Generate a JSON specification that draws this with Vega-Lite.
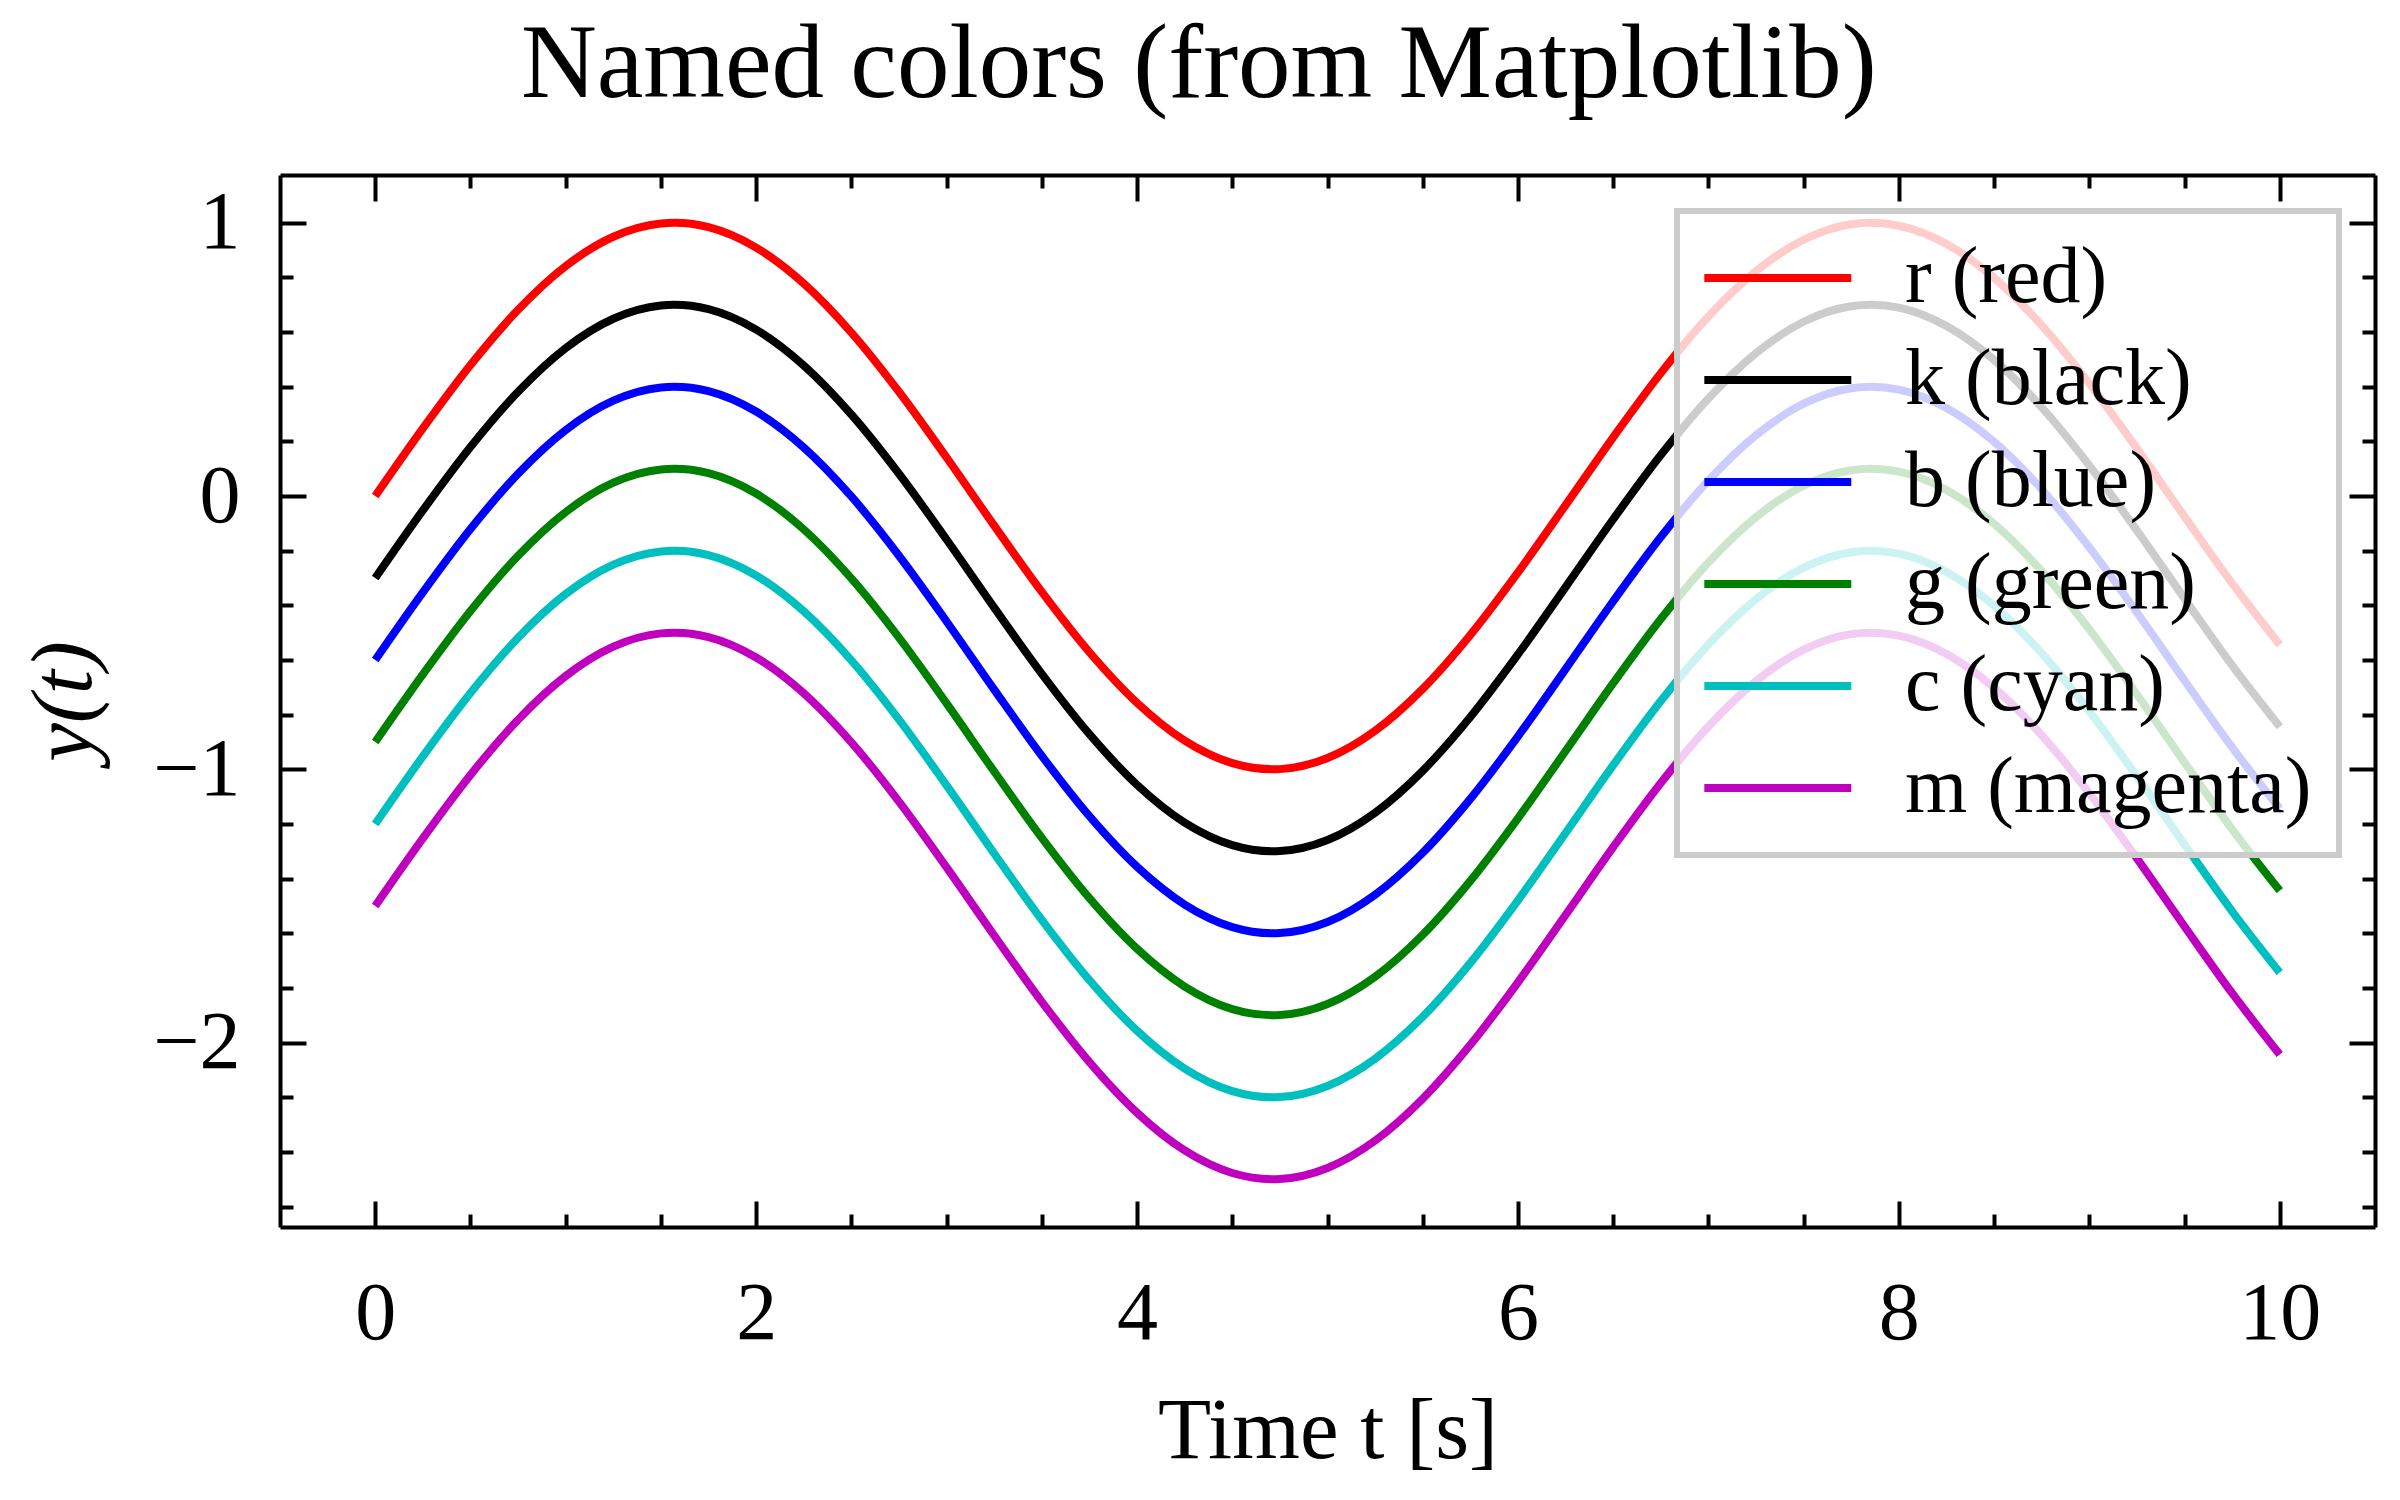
{
  "$schema": "https://vega.github.io/schema/vega-lite/v6.json",
  "autosize": {"type": "none"},
  "width": 2095,
  "height": 1052,
  "padding": {"left": 280, "top": 175, "right": 25, "bottom": 273},
  "background": "white",
  "title": {
    "text": "Named colors (from Matplotlib)",
    "font": "Liberation Serif",
    "fontSize": 105,
    "fontWeight": "normal",
    "color": "black",
    "anchor": "middle",
    "frame": "bounds",
    "baseline": "alphabetic",
    "offset": -29
  },
  "config": {
    "view": {"stroke": null},
    "axis": {
      "grid": false,
      "domainColor": "black",
      "domainWidth": 4,
      "tickColor": "black",
      "tickWidth": 4,
      "labelFont": "Liberation Serif",
      "labelFontSize": 82,
      "labelColor": "black",
      "labelFlush": false,
      "labelOverlap": false,
      "titleFont": "Liberation Serif",
      "titleFontSize": 87,
      "titleFontWeight": "normal",
      "titleColor": "black",
      "zindex": 1
    },
    "legend": {
      "orient": "top-right",
      "offset": 36,
      "padding": 27,
      "rowPadding": 22,
      "symbolType": "M-2.7,0H7.3",
      "symbolSize": 864,
      "symbolStrokeWidth": 8,
      "labelOffset": 121,
      "labelFont": "Liberation Serif",
      "labelFontSize": 80,
      "labelColor": "black",
      "labelLimit": 0,
      "strokeColor": "#cccccc",
      "fillColor": "rgba(255,255,255,0.8)",
      "cornerRadius": 0
    }
  },
  "data": {
    "values": [
      {"t": 0, "series": "r (red)", "y": 0},
      {"t": 0.25, "series": "r (red)", "y": 0.2474},
      {"t": 0.5, "series": "r (red)", "y": 0.4794},
      {"t": 0.75, "series": "r (red)", "y": 0.6816},
      {"t": 1, "series": "r (red)", "y": 0.8415},
      {"t": 1.25, "series": "r (red)", "y": 0.949},
      {"t": 1.5, "series": "r (red)", "y": 0.9975},
      {"t": 1.5708, "series": "r (red)", "y": 1},
      {"t": 1.75, "series": "r (red)", "y": 0.984},
      {"t": 2, "series": "r (red)", "y": 0.9093},
      {"t": 2.25, "series": "r (red)", "y": 0.7781},
      {"t": 2.5, "series": "r (red)", "y": 0.5985},
      {"t": 2.75, "series": "r (red)", "y": 0.3817},
      {"t": 3, "series": "r (red)", "y": 0.1411},
      {"t": 3.25, "series": "r (red)", "y": -0.1082},
      {"t": 3.5, "series": "r (red)", "y": -0.3508},
      {"t": 3.75, "series": "r (red)", "y": -0.5716},
      {"t": 4, "series": "r (red)", "y": -0.7568},
      {"t": 4.25, "series": "r (red)", "y": -0.895},
      {"t": 4.5, "series": "r (red)", "y": -0.9775},
      {"t": 4.7124, "series": "r (red)", "y": -1},
      {"t": 4.75, "series": "r (red)", "y": -0.9993},
      {"t": 5, "series": "r (red)", "y": -0.9589},
      {"t": 5.25, "series": "r (red)", "y": -0.8589},
      {"t": 5.5, "series": "r (red)", "y": -0.7055},
      {"t": 5.75, "series": "r (red)", "y": -0.5083},
      {"t": 6, "series": "r (red)", "y": -0.2794},
      {"t": 6.25, "series": "r (red)", "y": -0.0332},
      {"t": 6.5, "series": "r (red)", "y": 0.2151},
      {"t": 6.75, "series": "r (red)", "y": 0.45},
      {"t": 7, "series": "r (red)", "y": 0.657},
      {"t": 7.25, "series": "r (red)", "y": 0.8231},
      {"t": 7.5, "series": "r (red)", "y": 0.938},
      {"t": 7.75, "series": "r (red)", "y": 0.9946},
      {"t": 7.854, "series": "r (red)", "y": 1},
      {"t": 8, "series": "r (red)", "y": 0.9894},
      {"t": 8.25, "series": "r (red)", "y": 0.9224},
      {"t": 8.5, "series": "r (red)", "y": 0.7985},
      {"t": 8.75, "series": "r (red)", "y": 0.6247},
      {"t": 9, "series": "r (red)", "y": 0.4121},
      {"t": 9.25, "series": "r (red)", "y": 0.1739},
      {"t": 9.5, "series": "r (red)", "y": -0.0752},
      {"t": 9.75, "series": "r (red)", "y": -0.3195},
      {"t": 10, "series": "r (red)", "y": -0.544},

      {"t": 0, "series": "k (black)", "y": -0.3},
      {"t": 0.25, "series": "k (black)", "y": -0.0526},
      {"t": 0.5, "series": "k (black)", "y": 0.1794},
      {"t": 0.75, "series": "k (black)", "y": 0.3816},
      {"t": 1, "series": "k (black)", "y": 0.5415},
      {"t": 1.25, "series": "k (black)", "y": 0.649},
      {"t": 1.5, "series": "k (black)", "y": 0.6975},
      {"t": 1.5708, "series": "k (black)", "y": 0.7},
      {"t": 1.75, "series": "k (black)", "y": 0.684},
      {"t": 2, "series": "k (black)", "y": 0.6093},
      {"t": 2.25, "series": "k (black)", "y": 0.4781},
      {"t": 2.5, "series": "k (black)", "y": 0.2985},
      {"t": 2.75, "series": "k (black)", "y": 0.0817},
      {"t": 3, "series": "k (black)", "y": -0.1589},
      {"t": 3.25, "series": "k (black)", "y": -0.4082},
      {"t": 3.5, "series": "k (black)", "y": -0.6508},
      {"t": 3.75, "series": "k (black)", "y": -0.8716},
      {"t": 4, "series": "k (black)", "y": -1.0568},
      {"t": 4.25, "series": "k (black)", "y": -1.195},
      {"t": 4.5, "series": "k (black)", "y": -1.2775},
      {"t": 4.7124, "series": "k (black)", "y": -1.3},
      {"t": 4.75, "series": "k (black)", "y": -1.2993},
      {"t": 5, "series": "k (black)", "y": -1.2589},
      {"t": 5.25, "series": "k (black)", "y": -1.1589},
      {"t": 5.5, "series": "k (black)", "y": -1.0055},
      {"t": 5.75, "series": "k (black)", "y": -0.8083},
      {"t": 6, "series": "k (black)", "y": -0.5794},
      {"t": 6.25, "series": "k (black)", "y": -0.3332},
      {"t": 6.5, "series": "k (black)", "y": -0.0849},
      {"t": 6.75, "series": "k (black)", "y": 0.15},
      {"t": 7, "series": "k (black)", "y": 0.357},
      {"t": 7.25, "series": "k (black)", "y": 0.5231},
      {"t": 7.5, "series": "k (black)", "y": 0.638},
      {"t": 7.75, "series": "k (black)", "y": 0.6946},
      {"t": 7.854, "series": "k (black)", "y": 0.7},
      {"t": 8, "series": "k (black)", "y": 0.6894},
      {"t": 8.25, "series": "k (black)", "y": 0.6224},
      {"t": 8.5, "series": "k (black)", "y": 0.4985},
      {"t": 8.75, "series": "k (black)", "y": 0.3247},
      {"t": 9, "series": "k (black)", "y": 0.1121},
      {"t": 9.25, "series": "k (black)", "y": -0.1261},
      {"t": 9.5, "series": "k (black)", "y": -0.3752},
      {"t": 9.75, "series": "k (black)", "y": -0.6195},
      {"t": 10, "series": "k (black)", "y": -0.844},

      {"t": 0, "series": "b (blue)", "y": -0.6},
      {"t": 0.25, "series": "b (blue)", "y": -0.3526},
      {"t": 0.5, "series": "b (blue)", "y": -0.1206},
      {"t": 0.75, "series": "b (blue)", "y": 0.0816},
      {"t": 1, "series": "b (blue)", "y": 0.2415},
      {"t": 1.25, "series": "b (blue)", "y": 0.349},
      {"t": 1.5, "series": "b (blue)", "y": 0.3975},
      {"t": 1.5708, "series": "b (blue)", "y": 0.4},
      {"t": 1.75, "series": "b (blue)", "y": 0.384},
      {"t": 2, "series": "b (blue)", "y": 0.3093},
      {"t": 2.25, "series": "b (blue)", "y": 0.1781},
      {"t": 2.5, "series": "b (blue)", "y": -0.0015},
      {"t": 2.75, "series": "b (blue)", "y": -0.2183},
      {"t": 3, "series": "b (blue)", "y": -0.4589},
      {"t": 3.25, "series": "b (blue)", "y": -0.7082},
      {"t": 3.5, "series": "b (blue)", "y": -0.9508},
      {"t": 3.75, "series": "b (blue)", "y": -1.1716},
      {"t": 4, "series": "b (blue)", "y": -1.3568},
      {"t": 4.25, "series": "b (blue)", "y": -1.495},
      {"t": 4.5, "series": "b (blue)", "y": -1.5775},
      {"t": 4.7124, "series": "b (blue)", "y": -1.6},
      {"t": 4.75, "series": "b (blue)", "y": -1.5993},
      {"t": 5, "series": "b (blue)", "y": -1.5589},
      {"t": 5.25, "series": "b (blue)", "y": -1.4589},
      {"t": 5.5, "series": "b (blue)", "y": -1.3055},
      {"t": 5.75, "series": "b (blue)", "y": -1.1083},
      {"t": 6, "series": "b (blue)", "y": -0.8794},
      {"t": 6.25, "series": "b (blue)", "y": -0.6332},
      {"t": 6.5, "series": "b (blue)", "y": -0.3849},
      {"t": 6.75, "series": "b (blue)", "y": -0.15},
      {"t": 7, "series": "b (blue)", "y": 0.057},
      {"t": 7.25, "series": "b (blue)", "y": 0.2231},
      {"t": 7.5, "series": "b (blue)", "y": 0.338},
      {"t": 7.75, "series": "b (blue)", "y": 0.3946},
      {"t": 7.854, "series": "b (blue)", "y": 0.4},
      {"t": 8, "series": "b (blue)", "y": 0.3894},
      {"t": 8.25, "series": "b (blue)", "y": 0.3224},
      {"t": 8.5, "series": "b (blue)", "y": 0.1985},
      {"t": 8.75, "series": "b (blue)", "y": 0.0247},
      {"t": 9, "series": "b (blue)", "y": -0.1879},
      {"t": 9.25, "series": "b (blue)", "y": -0.4261},
      {"t": 9.5, "series": "b (blue)", "y": -0.6752},
      {"t": 9.75, "series": "b (blue)", "y": -0.9195},
      {"t": 10, "series": "b (blue)", "y": -1.144},

      {"t": 0, "series": "g (green)", "y": -0.9},
      {"t": 0.25, "series": "g (green)", "y": -0.6526},
      {"t": 0.5, "series": "g (green)", "y": -0.4206},
      {"t": 0.75, "series": "g (green)", "y": -0.2184},
      {"t": 1, "series": "g (green)", "y": -0.0585},
      {"t": 1.25, "series": "g (green)", "y": 0.049},
      {"t": 1.5, "series": "g (green)", "y": 0.0975},
      {"t": 1.5708, "series": "g (green)", "y": 0.1},
      {"t": 1.75, "series": "g (green)", "y": 0.084},
      {"t": 2, "series": "g (green)", "y": 0.0093},
      {"t": 2.25, "series": "g (green)", "y": -0.1219},
      {"t": 2.5, "series": "g (green)", "y": -0.3015},
      {"t": 2.75, "series": "g (green)", "y": -0.5183},
      {"t": 3, "series": "g (green)", "y": -0.7589},
      {"t": 3.25, "series": "g (green)", "y": -1.0082},
      {"t": 3.5, "series": "g (green)", "y": -1.2508},
      {"t": 3.75, "series": "g (green)", "y": -1.4716},
      {"t": 4, "series": "g (green)", "y": -1.6568},
      {"t": 4.25, "series": "g (green)", "y": -1.795},
      {"t": 4.5, "series": "g (green)", "y": -1.8775},
      {"t": 4.7124, "series": "g (green)", "y": -1.9},
      {"t": 4.75, "series": "g (green)", "y": -1.8993},
      {"t": 5, "series": "g (green)", "y": -1.8589},
      {"t": 5.25, "series": "g (green)", "y": -1.7589},
      {"t": 5.5, "series": "g (green)", "y": -1.6055},
      {"t": 5.75, "series": "g (green)", "y": -1.4083},
      {"t": 6, "series": "g (green)", "y": -1.1794},
      {"t": 6.25, "series": "g (green)", "y": -0.9332},
      {"t": 6.5, "series": "g (green)", "y": -0.6849},
      {"t": 6.75, "series": "g (green)", "y": -0.45},
      {"t": 7, "series": "g (green)", "y": -0.243},
      {"t": 7.25, "series": "g (green)", "y": -0.0769},
      {"t": 7.5, "series": "g (green)", "y": 0.038},
      {"t": 7.75, "series": "g (green)", "y": 0.0946},
      {"t": 7.854, "series": "g (green)", "y": 0.1},
      {"t": 8, "series": "g (green)", "y": 0.0894},
      {"t": 8.25, "series": "g (green)", "y": 0.0224},
      {"t": 8.5, "series": "g (green)", "y": -0.1015},
      {"t": 8.75, "series": "g (green)", "y": -0.2753},
      {"t": 9, "series": "g (green)", "y": -0.4879},
      {"t": 9.25, "series": "g (green)", "y": -0.7261},
      {"t": 9.5, "series": "g (green)", "y": -0.9752},
      {"t": 9.75, "series": "g (green)", "y": -1.2195},
      {"t": 10, "series": "g (green)", "y": -1.444},

      {"t": 0, "series": "c (cyan)", "y": -1.2},
      {"t": 0.25, "series": "c (cyan)", "y": -0.9526},
      {"t": 0.5, "series": "c (cyan)", "y": -0.7206},
      {"t": 0.75, "series": "c (cyan)", "y": -0.5184},
      {"t": 1, "series": "c (cyan)", "y": -0.3585},
      {"t": 1.25, "series": "c (cyan)", "y": -0.251},
      {"t": 1.5, "series": "c (cyan)", "y": -0.2025},
      {"t": 1.5708, "series": "c (cyan)", "y": -0.2},
      {"t": 1.75, "series": "c (cyan)", "y": -0.216},
      {"t": 2, "series": "c (cyan)", "y": -0.2907},
      {"t": 2.25, "series": "c (cyan)", "y": -0.4219},
      {"t": 2.5, "series": "c (cyan)", "y": -0.6015},
      {"t": 2.75, "series": "c (cyan)", "y": -0.8183},
      {"t": 3, "series": "c (cyan)", "y": -1.0589},
      {"t": 3.25, "series": "c (cyan)", "y": -1.3082},
      {"t": 3.5, "series": "c (cyan)", "y": -1.5508},
      {"t": 3.75, "series": "c (cyan)", "y": -1.7716},
      {"t": 4, "series": "c (cyan)", "y": -1.9568},
      {"t": 4.25, "series": "c (cyan)", "y": -2.095},
      {"t": 4.5, "series": "c (cyan)", "y": -2.1775},
      {"t": 4.7124, "series": "c (cyan)", "y": -2.2},
      {"t": 4.75, "series": "c (cyan)", "y": -2.1993},
      {"t": 5, "series": "c (cyan)", "y": -2.1589},
      {"t": 5.25, "series": "c (cyan)", "y": -2.0589},
      {"t": 5.5, "series": "c (cyan)", "y": -1.9055},
      {"t": 5.75, "series": "c (cyan)", "y": -1.7083},
      {"t": 6, "series": "c (cyan)", "y": -1.4794},
      {"t": 6.25, "series": "c (cyan)", "y": -1.2332},
      {"t": 6.5, "series": "c (cyan)", "y": -0.9849},
      {"t": 6.75, "series": "c (cyan)", "y": -0.75},
      {"t": 7, "series": "c (cyan)", "y": -0.543},
      {"t": 7.25, "series": "c (cyan)", "y": -0.3769},
      {"t": 7.5, "series": "c (cyan)", "y": -0.262},
      {"t": 7.75, "series": "c (cyan)", "y": -0.2054},
      {"t": 7.854, "series": "c (cyan)", "y": -0.2},
      {"t": 8, "series": "c (cyan)", "y": -0.2106},
      {"t": 8.25, "series": "c (cyan)", "y": -0.2776},
      {"t": 8.5, "series": "c (cyan)", "y": -0.4015},
      {"t": 8.75, "series": "c (cyan)", "y": -0.5753},
      {"t": 9, "series": "c (cyan)", "y": -0.7879},
      {"t": 9.25, "series": "c (cyan)", "y": -1.0261},
      {"t": 9.5, "series": "c (cyan)", "y": -1.2752},
      {"t": 9.75, "series": "c (cyan)", "y": -1.5195},
      {"t": 10, "series": "c (cyan)", "y": -1.744},

      {"t": 0, "series": "m (magenta)", "y": -1.5},
      {"t": 0.25, "series": "m (magenta)", "y": -1.2526},
      {"t": 0.5, "series": "m (magenta)", "y": -1.0206},
      {"t": 0.75, "series": "m (magenta)", "y": -0.8184},
      {"t": 1, "series": "m (magenta)", "y": -0.6585},
      {"t": 1.25, "series": "m (magenta)", "y": -0.551},
      {"t": 1.5, "series": "m (magenta)", "y": -0.5025},
      {"t": 1.5708, "series": "m (magenta)", "y": -0.5},
      {"t": 1.75, "series": "m (magenta)", "y": -0.516},
      {"t": 2, "series": "m (magenta)", "y": -0.5907},
      {"t": 2.25, "series": "m (magenta)", "y": -0.7219},
      {"t": 2.5, "series": "m (magenta)", "y": -0.9015},
      {"t": 2.75, "series": "m (magenta)", "y": -1.1183},
      {"t": 3, "series": "m (magenta)", "y": -1.3589},
      {"t": 3.25, "series": "m (magenta)", "y": -1.6082},
      {"t": 3.5, "series": "m (magenta)", "y": -1.8508},
      {"t": 3.75, "series": "m (magenta)", "y": -2.0716},
      {"t": 4, "series": "m (magenta)", "y": -2.2568},
      {"t": 4.25, "series": "m (magenta)", "y": -2.395},
      {"t": 4.5, "series": "m (magenta)", "y": -2.4775},
      {"t": 4.7124, "series": "m (magenta)", "y": -2.5},
      {"t": 4.75, "series": "m (magenta)", "y": -2.4993},
      {"t": 5, "series": "m (magenta)", "y": -2.4589},
      {"t": 5.25, "series": "m (magenta)", "y": -2.3589},
      {"t": 5.5, "series": "m (magenta)", "y": -2.2055},
      {"t": 5.75, "series": "m (magenta)", "y": -2.0083},
      {"t": 6, "series": "m (magenta)", "y": -1.7794},
      {"t": 6.25, "series": "m (magenta)", "y": -1.5332},
      {"t": 6.5, "series": "m (magenta)", "y": -1.2849},
      {"t": 6.75, "series": "m (magenta)", "y": -1.05},
      {"t": 7, "series": "m (magenta)", "y": -0.843},
      {"t": 7.25, "series": "m (magenta)", "y": -0.6769},
      {"t": 7.5, "series": "m (magenta)", "y": -0.562},
      {"t": 7.75, "series": "m (magenta)", "y": -0.5054},
      {"t": 7.854, "series": "m (magenta)", "y": -0.5},
      {"t": 8, "series": "m (magenta)", "y": -0.5106},
      {"t": 8.25, "series": "m (magenta)", "y": -0.5776},
      {"t": 8.5, "series": "m (magenta)", "y": -0.7015},
      {"t": 8.75, "series": "m (magenta)", "y": -0.8753},
      {"t": 9, "series": "m (magenta)", "y": -1.0879},
      {"t": 9.25, "series": "m (magenta)", "y": -1.3261},
      {"t": 9.5, "series": "m (magenta)", "y": -1.5752},
      {"t": 9.75, "series": "m (magenta)", "y": -1.8195},
      {"t": 10, "series": "m (magenta)", "y": -2.044}
    ]
  },
  "resolve": {"axis": {"x": "independent", "y": "independent"}},
  "layer": [
    {
      "mark": {"type": "line", "strokeWidth": 8, "interpolate": "monotone", "clip": true},
      "encoding": {
        "x": {
          "field": "t", "type": "quantitative",
          "scale": {"domain": [-0.5, 10.5], "nice": false, "zero": false},
          "axis": {
            "orient": "bottom", "values": [0, 2, 4, 6, 8, 10], "format": "d",
            "tickSize": -26, "labelPadding": 72,
            "title": "Time t [s]", "titlePadding": 34
          }
        },
        "y": {
          "field": "y", "type": "quantitative",
          "scale": {"domain": [-2.675, 1.175], "nice": false, "zero": false},
          "axis": {
            "orient": "left", "values": [-2, -1, 0, 1], "format": "d",
            "tickSize": -26, "labelPadding": 66,
            "title": "y(t)", "titleFontStyle": "italic", "titlePadding": 44
          }
        },
        "color": {
          "field": "series", "type": "nominal",
          "scale": {
            "domain": ["r (red)", "k (black)", "b (blue)", "g (green)", "c (cyan)", "m (magenta)"],
            "range": ["#ff0000", "#000000", "#0000ff", "#008000", "#00bfbf", "#bf00bf"]
          },
          "legend": {
            "title": null,
            "encode": {"legend": {"update": {"strokeWidth": {"value": 6}}}}
          }
        }
      }
    },
    {
      "mark": {"type": "point", "opacity": 0, "size": 0},
      "encoding": {
        "x": {
          "field": "t", "type": "quantitative",
          "scale": {"domain": [-0.5, 10.5], "nice": false, "zero": false},
          "axis": {"orient": "top", "values": [0, 2, 4, 6, 8, 10], "tickSize": -26, "labels": false, "title": null}
        },
        "y": {
          "field": "y", "type": "quantitative",
          "scale": {"domain": [-2.675, 1.175], "nice": false, "zero": false},
          "axis": {"orient": "right", "values": [-2, -1, 0, 1], "tickSize": -26, "labels": false, "title": null}
        }
      }
    },
    {
      "mark": {"type": "point", "opacity": 0, "size": 0},
      "encoding": {
        "x": {
          "field": "t", "type": "quantitative",
          "scale": {"domain": [-0.5, 10.5], "nice": false, "zero": false},
          "axis": {
            "orient": "bottom", "domain": false, "labels": false, "title": null, "tickSize": -13,
            "values": [0.5, 1, 1.5, 2.5, 3, 3.5, 4.5, 5, 5.5, 6.5, 7, 7.5, 8.5, 9, 9.5]
          }
        },
        "y": {
          "field": "y", "type": "quantitative",
          "scale": {"domain": [-2.675, 1.175], "nice": false, "zero": false},
          "axis": {
            "orient": "left", "domain": false, "labels": false, "title": null, "tickSize": -13,
            "values": [-2.6, -2.4, -2.2, -1.8, -1.6, -1.4, -1.2, -0.8, -0.6, -0.4, -0.2, 0.2, 0.4, 0.6, 0.8]
          }
        }
      }
    },
    {
      "mark": {"type": "point", "opacity": 0, "size": 0},
      "encoding": {
        "x": {
          "field": "t", "type": "quantitative",
          "scale": {"domain": [-0.5, 10.5], "nice": false, "zero": false},
          "axis": {
            "orient": "top", "domain": false, "labels": false, "title": null, "tickSize": -13,
            "values": [0.5, 1, 1.5, 2.5, 3, 3.5, 4.5, 5, 5.5, 6.5, 7, 7.5, 8.5, 9, 9.5]
          }
        },
        "y": {
          "field": "y", "type": "quantitative",
          "scale": {"domain": [-2.675, 1.175], "nice": false, "zero": false},
          "axis": {
            "orient": "right", "domain": false, "labels": false, "title": null, "tickSize": -13,
            "values": [-2.6, -2.4, -2.2, -1.8, -1.6, -1.4, -1.2, -0.8, -0.6, -0.4, -0.2, 0.2, 0.4, 0.6, 0.8]
          }
        }
      }
    }
  ]
}
